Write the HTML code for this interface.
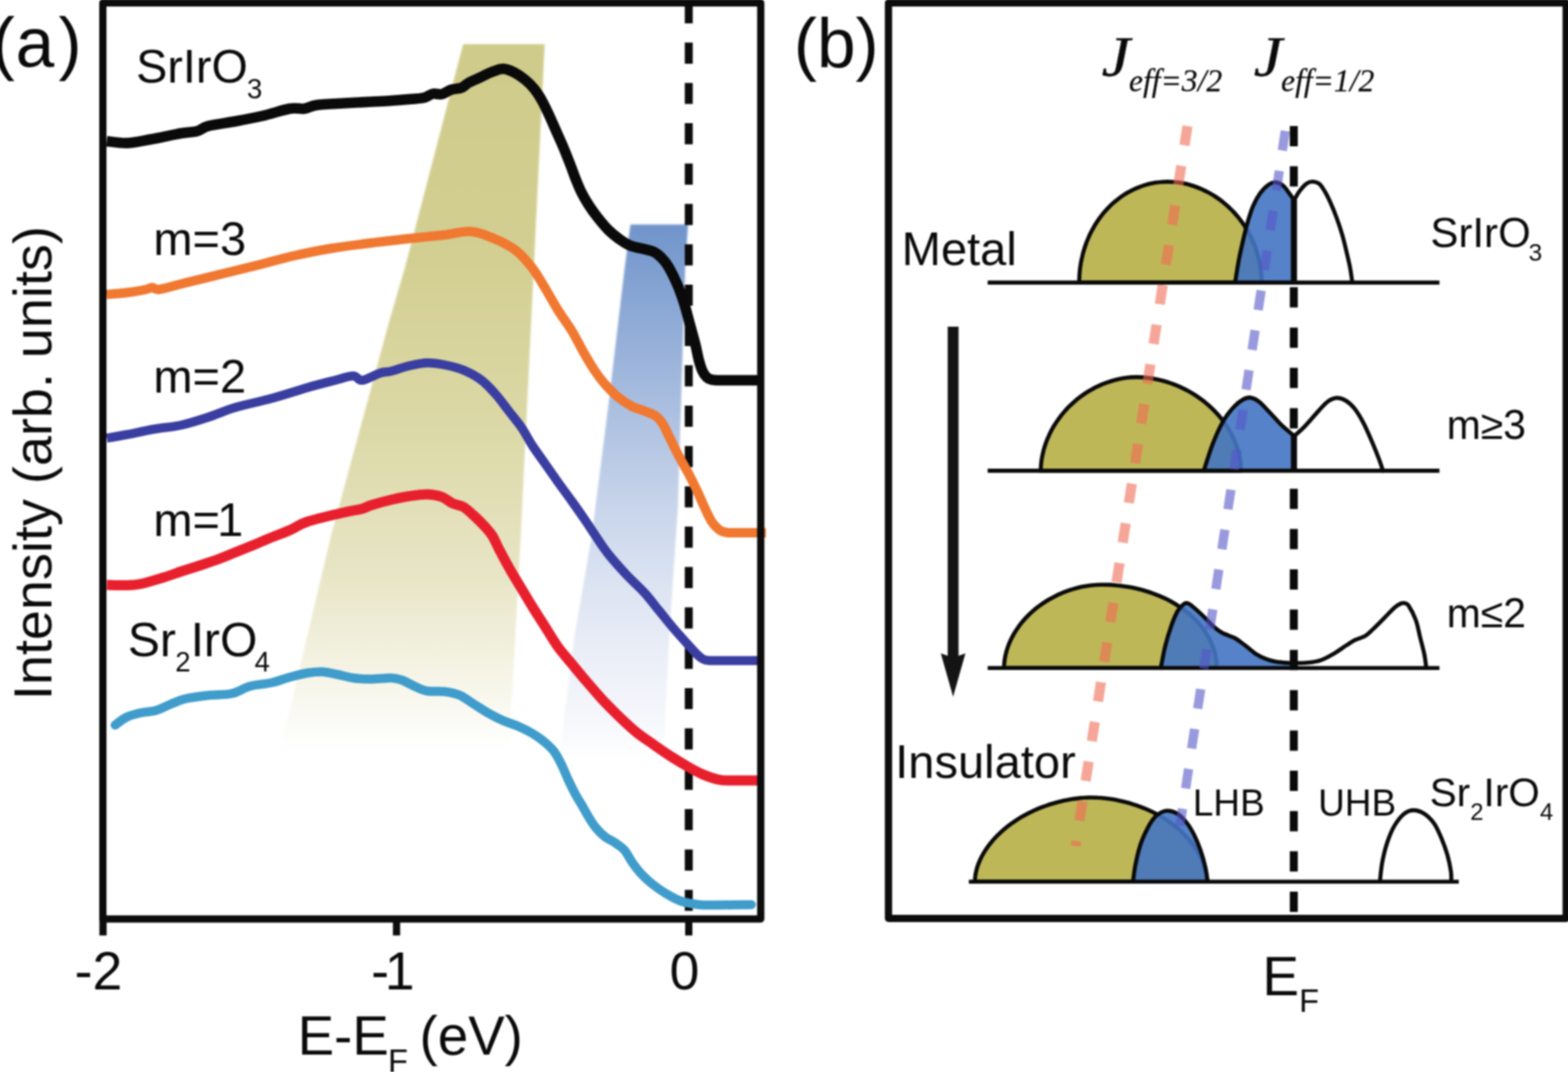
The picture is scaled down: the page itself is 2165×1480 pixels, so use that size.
<!DOCTYPE html>
<html lang="en">
<head>
<meta charset="utf-8">
<title>Figure: photoemission spectra and schematic band diagram</title>
<style>
html,body{margin:0;padding:0;background:#fff;}
body{width:2165px;height:1480px;overflow:hidden;}
svg{display:block;}
text{font-family:"Liberation Sans",Arial,Helvetica,sans-serif;fill:#0a0a0a;}
.ser{font-family:"Liberation Serif","Times New Roman",serif;font-style:italic;}
</style>
</head>
<body>
<svg width="2165" height="1480" viewBox="0 0 2165 1480">
<defs>
<linearGradient id="gy" gradientUnits="userSpaceOnUse" x1="0" y1="61" x2="0" y2="1035">
<stop offset="0" stop-color="#cfcb8a" stop-opacity="1"/><stop offset="0.3" stop-color="#d3cf92" stop-opacity="1"/><stop offset="0.55" stop-color="#dcd9a8" stop-opacity="1"/><stop offset="0.75" stop-color="#e8e5c6" stop-opacity="1"/><stop offset="0.9" stop-color="#f6f5e8" stop-opacity="1"/><stop offset="1" stop-color="#ffffff" stop-opacity="1"/>
</linearGradient>
<linearGradient id="gb" gradientUnits="userSpaceOnUse" x1="0" y1="310" x2="0" y2="1045">
<stop offset="0.0" stop-color="#7094cb" stop-opacity="1"/><stop offset="0.1224" stop-color="#85a4d3" stop-opacity="1"/><stop offset="0.2585" stop-color="#9cb4db" stop-opacity="1"/><stop offset="0.3946" stop-color="#b3c5e3" stop-opacity="1"/><stop offset="0.5306" stop-color="#c8d5eb" stop-opacity="1"/><stop offset="0.6667" stop-color="#dbe3f2" stop-opacity="1"/><stop offset="0.8027" stop-color="#eaeef7" stop-opacity="1"/><stop offset="0.9388" stop-color="#f7f8fc" stop-opacity="1"/><stop offset="1.0" stop-color="#ffffff" stop-opacity="1"/>
</linearGradient>
<filter id="soft" filterUnits="userSpaceOnUse" x="-20" y="-20" width="2205" height="1520" color-interpolation-filters="sRGB"><feGaussianBlur stdDeviation="1.2"/></filter>
<filter id="softb" filterUnits="userSpaceOnUse" x="300" y="0" width="800" height="1200" color-interpolation-filters="sRGB"><feGaussianBlur stdDeviation="1.2"/></filter>
</defs>
<rect x="0" y="0" width="2165" height="1480" fill="#ffffff"/>
<g filter="url(#soft)">

<g id="panel-a">
<path d="M639.5,61 L752,61 L737,370 L719,740 L703,1035 L387,1035 L457,740 L537,445 L559,370 Z" fill="url(#gy)" filter="url(#softb)"/>
<path d="M870.5,310 L950,310 L946,370 L936,700 L924,880 L916,1045 L772,1045 L793,880 L817,740 L840,560 L862.5,370 Z" fill="url(#gb)" filter="url(#softb)"/>
<line x1="951.0" y1="3.0" x2="951.0" y2="1264" stroke="#0c0c0c" stroke-width="11" stroke-dasharray="29.2 26.5"/>
<path d="M159.0,1001.0 C161.7,999.2 169.0,992.8 175.0,990.0 C181.0,987.2 188.3,985.5 195.0,984.0 C201.7,982.5 208.3,982.9 215.0,981.0 C221.7,979.1 228.3,975.2 235.0,972.5 C241.7,969.8 246.2,967.1 255.0,965.0 C263.8,962.9 276.7,961.2 287.5,960.0 C298.3,958.8 310.4,959.6 320.0,957.5 C329.6,955.4 335.8,950.0 345.0,947.5 C354.2,945.0 365.8,944.6 375.0,942.5 C384.2,940.4 391.7,937.2 400.0,935.0 C408.3,932.8 417.5,930.2 425.0,929.0 C432.5,927.8 438.3,927.2 445.0,927.5 C451.7,927.8 457.9,929.6 465.0,931.0 C472.1,932.4 479.6,934.9 487.5,936.0 C495.4,937.1 503.8,937.5 512.5,937.5 C521.2,937.5 532.9,935.8 540.0,936.0 C547.1,936.2 549.6,937.1 555.0,939.0 C560.4,940.9 566.7,945.0 572.5,947.5 C578.3,950.0 582.9,952.8 590.0,954.0 C597.1,955.2 607.5,954.0 615.0,955.0 C622.5,956.0 628.3,957.1 635.0,960.0 C641.7,962.9 648.3,968.3 655.0,972.5 C661.7,976.7 668.3,981.2 675.0,985.0 C681.7,988.8 688.3,992.1 695.0,995.0 C701.7,997.9 708.3,999.6 715.0,1002.5 C721.7,1005.4 728.8,1008.8 735.0,1012.5 C741.2,1016.2 747.5,1020.8 752.5,1025.0 C757.5,1029.2 761.2,1032.5 765.0,1037.5 C768.8,1042.5 771.7,1048.3 775.0,1055.0 C778.3,1061.7 781.7,1070.4 785.0,1077.5 C788.3,1084.6 792.1,1092.1 795.0,1097.5 C797.9,1102.9 799.6,1105.0 802.5,1110.0 C805.4,1115.0 809.2,1122.1 812.5,1127.5 C815.8,1132.9 818.8,1137.9 822.5,1142.5 C826.2,1147.1 830.4,1151.4 835.0,1155.0 C839.6,1158.6 845.4,1160.8 850.0,1164.0 C854.6,1167.2 858.8,1169.7 862.5,1174.0 C866.2,1178.3 868.8,1184.7 872.5,1190.0 C876.2,1195.3 880.4,1201.0 885.0,1206.0 C889.6,1211.0 894.2,1215.3 900.0,1220.0 C905.8,1224.7 913.3,1230.0 920.0,1234.0 C926.7,1238.0 932.5,1241.5 940.0,1244.0 C947.5,1246.5 956.7,1248.1 965.0,1249.0 C973.3,1249.9 977.9,1249.5 990.0,1249.5 C1002.1,1249.5 1029.6,1249.1 1037.5,1249.0" fill="none" stroke="#3f9ccb" stroke-width="12.5" stroke-linejoin="round" stroke-linecap="round"/>
<path d="M147.5,807.5 C152.1,807.6 167.1,808.2 175.0,808.0 C182.9,807.8 186.7,807.8 195.0,806.0 C203.3,804.2 215.8,800.3 225.0,797.5 C234.2,794.7 241.7,791.8 250.0,789.0 C258.3,786.2 266.7,783.8 275.0,781.0 C283.3,778.2 291.7,775.6 300.0,772.5 C308.3,769.4 316.7,765.8 325.0,762.5 C333.3,759.2 342.5,755.6 350.0,752.5 C357.5,749.4 361.7,747.4 370.0,744.0 C378.3,740.6 390.8,736.0 400.0,732.0 C409.2,728.0 412.5,724.1 425.0,720.0 C437.5,715.9 462.5,710.4 475.0,707.5 C487.5,704.6 493.8,704.2 500.0,702.5 C506.2,700.8 505.8,699.6 512.5,697.5 C519.2,695.4 531.2,692.1 540.0,690.0 C548.8,687.9 556.7,686.2 565.0,685.0 C573.3,683.8 582.5,682.3 590.0,682.5 C597.5,682.7 604.2,683.9 610.0,686.0 C615.8,688.1 620.0,692.7 625.0,695.0 C630.0,697.3 635.0,697.1 640.0,700.0 C645.0,702.9 650.0,707.9 655.0,712.5 C660.0,717.1 665.8,722.9 670.0,727.5 C674.2,732.1 676.7,734.6 680.0,740.0 C683.3,745.4 685.8,752.1 690.0,760.0 C694.2,767.9 700.0,778.8 705.0,787.5 C710.0,796.2 715.0,804.2 720.0,812.5 C725.0,820.8 729.6,828.8 735.0,837.5 C740.4,846.2 746.7,855.8 752.5,865.0 C758.3,874.2 763.8,883.8 770.0,892.5 C776.2,901.2 783.3,908.9 790.0,917.0 C796.7,925.1 803.3,933.2 810.0,941.0 C816.7,948.8 822.9,956.3 830.0,964.0 C837.1,971.7 844.6,979.3 852.5,987.0 C860.4,994.7 869.2,1003.2 877.5,1010.0 C885.8,1016.8 894.2,1022.2 902.5,1028.0 C910.8,1033.8 919.2,1039.7 927.5,1045.0 C935.8,1050.3 945.4,1056.0 952.5,1060.0 C959.6,1064.0 964.6,1066.6 970.0,1069.0 C975.4,1071.4 980.8,1073.2 985.0,1074.5 C989.2,1075.8 991.7,1076.3 995.0,1076.8 C998.3,1077.3 1000.0,1077.4 1005.0,1077.5 C1010.0,1077.6 1017.5,1077.5 1025.0,1077.5 C1032.5,1077.5 1045.8,1077.5 1050.0,1077.5" fill="none" stroke="#e8202e" stroke-width="14" stroke-linejoin="round" stroke-linecap="butt"/>
<path d="M147.5,605.0 C152.1,604.2 164.2,602.1 175.0,600.0 C185.8,597.9 200.0,594.7 212.5,592.5 C225.0,590.3 237.5,589.8 250.0,587.0 C262.5,584.2 275.0,580.1 287.5,576.0 C300.0,571.9 310.4,566.8 325.0,562.5 C339.6,558.2 358.3,554.6 375.0,550.0 C391.7,545.4 410.4,539.2 425.0,535.0 C439.6,530.8 452.1,527.7 462.5,525.0 C472.9,522.3 481.2,519.0 487.5,519.0 C493.8,519.0 493.8,525.7 500.0,525.0 C506.2,524.3 518.3,517.1 525.0,515.0 C531.7,512.9 533.3,514.2 540.0,512.5 C546.7,510.8 556.7,506.9 565.0,505.0 C573.3,503.1 581.7,501.2 590.0,501.0 C598.3,500.8 606.7,502.3 615.0,504.0 C623.3,505.7 631.7,507.5 640.0,511.0 C648.3,514.5 657.5,519.3 665.0,525.0 C672.5,530.7 678.8,537.9 685.0,545.0 C691.2,552.1 696.7,560.0 702.5,567.5 C708.3,575.0 714.6,582.1 720.0,590.0 C725.4,597.9 729.6,606.7 735.0,615.0 C740.4,623.3 746.7,631.7 752.5,640.0 C758.3,648.3 763.8,656.2 770.0,665.0 C776.2,673.8 783.8,683.8 790.0,692.5 C796.2,701.2 802.1,709.6 807.5,717.5 C812.9,725.4 817.1,732.1 822.5,740.0 C827.9,747.9 832.9,756.1 840.0,765.0 C847.1,773.9 856.7,784.6 865.0,793.5 C873.3,802.4 882.5,810.2 890.0,818.5 C897.5,826.8 903.3,834.8 910.0,843.0 C916.7,851.2 923.3,859.7 930.0,867.5 C936.7,875.3 944.7,884.1 950.0,890.0 C955.3,895.9 958.8,899.8 962.0,903.0 C965.2,906.2 967.0,907.6 969.0,909.0 C971.0,910.4 972.2,910.8 974.0,911.3 C975.8,911.8 977.3,911.9 980.0,912.0 C982.7,912.1 983.3,912.0 990.0,912.0 C996.7,912.0 1010.0,912.0 1020.0,912.0 C1030.0,912.0 1045.0,912.0 1050.0,912.0" fill="none" stroke="#3a3ea0" stroke-width="12.5" stroke-linejoin="round" stroke-linecap="butt"/>
<path d="M147.0,406.5 C151.7,406.1 166.2,405.1 175.0,404.0 C183.8,402.9 194.2,401.2 200.0,400.0 C205.8,398.8 206.7,397.1 210.0,397.0 C213.3,396.9 212.7,400.5 220.0,399.5 C227.3,398.5 239.8,394.5 254.0,391.0 C268.2,387.5 288.0,382.7 305.0,378.5 C322.0,374.3 339.1,370.2 356.0,366.0 C372.9,361.8 389.7,356.8 406.5,353.0 C423.3,349.2 440.1,345.8 457.0,343.0 C473.9,340.2 491.0,338.2 508.0,336.0 C525.0,333.8 541.7,331.9 559.0,330.0 C576.3,328.1 597.0,326.2 612.0,324.5 C627.0,322.8 637.8,318.9 649.0,319.5 C660.2,320.1 668.5,323.7 679.0,328.0 C689.5,332.3 702.7,338.5 712.0,345.5 C721.3,352.5 728.2,361.3 735.0,370.0 C741.8,378.7 746.7,387.9 752.5,397.5 C758.3,407.1 763.8,417.5 770.0,427.5 C776.2,437.5 784.2,447.9 790.0,457.5 C795.8,467.1 800.0,476.2 805.0,485.0 C810.0,493.8 815.0,502.5 820.0,510.0 C825.0,517.5 829.6,523.8 835.0,530.0 C840.4,536.2 846.2,542.3 852.5,547.5 C858.8,552.7 866.2,557.7 872.5,561.0 C878.8,564.3 884.6,565.3 890.0,567.5 C895.4,569.7 900.8,571.1 905.0,574.0 C909.2,576.9 911.7,579.8 915.0,585.0 C918.3,590.2 921.2,597.5 925.0,605.0 C928.8,612.5 933.3,622.1 937.5,630.0 C941.7,637.9 945.8,644.6 950.0,652.5 C954.2,660.4 958.8,669.6 962.5,677.5 C966.2,685.4 969.2,692.9 972.5,700.0 C975.8,707.1 979.2,714.8 982.5,720.0 C985.8,725.2 989.6,728.6 992.5,731.0 C995.4,733.4 997.4,733.8 1000.0,734.5 C1002.6,735.2 1003.8,735.3 1008.0,735.5 C1012.2,735.7 1016.8,735.5 1025.0,735.5 C1033.2,735.5 1052.1,735.5 1057.5,735.5" fill="none" stroke="#f07830" stroke-width="13" stroke-linejoin="round" stroke-linecap="butt"/>
<path d="M147.5,195.0 C152.1,195.4 165.0,197.9 175.0,197.5 C185.0,197.1 195.0,194.8 207.5,192.5 C220.0,190.2 239.2,185.9 250.0,184.0 C260.8,182.1 266.2,182.7 272.5,181.0 C278.8,179.3 278.8,176.2 287.5,174.0 C296.2,171.8 312.5,169.8 325.0,167.5 C337.5,165.2 350.0,162.9 362.5,160.0 C375.0,157.1 390.4,151.7 400.0,150.0 C409.6,148.3 413.8,150.8 420.0,150.0 C426.2,149.2 428.3,146.2 437.5,145.0 C446.7,143.8 462.5,143.2 475.0,142.5 C487.5,141.8 501.7,141.1 512.5,140.5 C523.3,139.9 531.2,139.6 540.0,139.0 C548.8,138.4 557.5,137.7 565.0,137.0 C572.5,136.3 579.6,136.2 585.0,135.0 C590.4,133.8 593.3,130.3 597.5,129.5 C601.7,128.7 605.8,130.9 610.0,130.0 C614.2,129.1 617.9,125.5 622.5,124.0 C627.1,122.5 633.3,122.7 637.5,121.0 C641.7,119.3 642.9,116.5 647.5,114.0 C652.1,111.5 659.6,108.5 665.0,106.0 C670.4,103.5 675.0,100.8 680.0,99.0 C685.0,97.2 690.0,94.8 695.0,95.0 C700.0,95.2 705.0,97.5 710.0,100.0 C715.0,102.5 720.4,106.2 725.0,110.0 C729.6,113.8 733.8,117.9 737.5,122.5 C741.2,127.1 744.2,131.7 747.5,137.5 C750.8,143.3 754.2,150.4 757.5,157.5 C760.8,164.6 764.2,172.5 767.5,180.0 C770.8,187.5 774.2,194.6 777.5,202.5 C780.8,210.4 784.6,220.0 787.5,227.5 C790.4,235.0 792.5,241.2 795.0,247.5 C797.5,253.8 799.6,259.2 802.5,265.0 C805.4,270.8 808.8,276.7 812.5,282.5 C816.2,288.3 820.4,294.2 825.0,300.0 C829.6,305.8 835.0,312.5 840.0,317.5 C845.0,322.5 850.0,326.4 855.0,330.0 C860.0,333.6 864.2,336.7 870.0,339.0 C875.8,341.3 884.6,342.6 890.0,344.0 C895.4,345.4 898.8,345.7 902.5,347.5 C906.2,349.3 909.2,351.7 912.5,355.0 C915.8,358.3 918.8,361.2 922.5,367.5 C926.2,373.8 931.2,383.8 935.0,392.5 C938.8,401.2 942.1,410.8 945.0,420.0 C947.9,429.2 950.0,438.3 952.5,447.5 C955.0,456.7 957.9,466.7 960.0,475.0 C962.1,483.3 963.3,491.2 965.0,497.5 C966.7,503.8 968.2,508.6 970.0,512.5 C971.8,516.4 974.0,519.1 976.0,521.0 C978.0,522.9 979.7,523.3 982.0,524.0 C984.3,524.7 985.3,524.8 990.0,525.0 C994.7,525.2 1000.4,525.0 1010.0,525.0 C1019.6,525.0 1041.2,525.0 1047.5,525.0" fill="none" stroke="#0a0a0a" stroke-width="14.5" stroke-linejoin="round" stroke-linecap="butt"/>
<rect x="142.0" y="4.0" width="908.4000000000001" height="1264.75" fill="none" stroke="#0c0c0c" stroke-width="10" stroke-linejoin="round"/>
<line x1="142.25" y1="1268.75" x2="142.25" y2="1291.5" stroke="#0c0c0c" stroke-width="10"/>
<line x1="547.5" y1="1268.75" x2="547.5" y2="1291.5" stroke="#0c0c0c" stroke-width="10"/>
<line x1="951.0" y1="1268.75" x2="951.0" y2="1291.5" stroke="#0c0c0c" stroke-width="10"/>
</g>
<g id="panel-b">
<path d="M1490.1,390.1 C1490.1,388.6 1490.2,384.0 1490.4,381.0 C1490.5,378.0 1490.8,374.9 1491.1,371.9 C1491.5,368.9 1491.9,365.9 1492.4,362.9 C1493.0,360.0 1493.6,357.0 1494.3,354.1 C1494.9,351.1 1495.7,348.2 1496.6,345.4 C1497.4,342.5 1498.4,339.6 1499.4,336.8 C1500.4,334.0 1501.5,331.3 1502.7,328.5 C1503.8,325.8 1505.1,323.1 1506.4,320.5 C1507.8,317.9 1509.2,315.3 1510.6,312.8 C1512.1,310.2 1513.7,307.8 1515.3,305.4 C1516.9,303.0 1518.6,300.6 1520.4,298.3 C1522.1,296.0 1523.9,293.8 1525.8,291.7 C1527.7,289.5 1529.6,287.4 1531.6,285.4 C1533.6,283.4 1535.7,281.5 1537.8,279.7 C1539.9,277.8 1542.1,276.0 1544.3,274.4 C1546.5,272.7 1548.7,271.1 1551.0,269.5 C1553.4,268.0 1555.7,266.6 1558.1,265.3 C1560.5,263.9 1562.9,262.7 1565.4,261.5 C1567.8,260.3 1570.3,259.3 1572.8,258.3 C1575.3,257.3 1577.9,256.4 1580.4,255.6 C1583.0,254.9 1585.6,254.2 1588.2,253.6 C1590.8,253.0 1593.5,252.5 1596.1,252.1 C1598.7,251.7 1601.4,251.4 1604.0,251.2 C1606.7,251.0 1609.3,250.9 1612.0,250.9 C1614.7,250.9 1617.2,251.0 1619.9,251.2 C1622.6,251.4 1625.4,251.7 1628.1,252.1 C1630.9,252.5 1633.6,253.0 1636.3,253.6 C1639.1,254.2 1641.8,255.0 1644.5,255.8 C1647.2,256.6 1649.9,257.5 1652.6,258.5 C1655.3,259.5 1658.0,260.6 1660.6,261.8 C1663.2,262.9 1665.8,264.2 1668.4,265.6 C1670.9,267.0 1673.4,268.4 1675.9,270.0 C1678.4,271.5 1680.8,273.2 1683.2,274.9 C1685.6,276.6 1687.9,278.4 1690.2,280.3 C1692.5,282.2 1694.7,284.2 1696.9,286.2 C1699.0,288.2 1701.1,290.4 1703.2,292.5 C1705.2,294.7 1707.2,297.0 1709.1,299.3 C1711.0,301.6 1712.8,304.0 1714.6,306.4 C1716.4,308.9 1718.1,311.4 1719.7,313.9 C1721.3,316.5 1722.8,319.1 1724.3,321.7 C1725.7,324.4 1727.1,327.1 1728.4,329.8 C1729.6,332.5 1730.8,335.3 1732.0,338.1 C1733.1,340.9 1734.1,343.8 1735.0,346.6 C1736.0,349.5 1736.8,352.4 1737.6,355.3 C1738.3,358.2 1739.0,361.1 1739.5,364.1 C1740.1,367.0 1740.6,369.9 1741.0,372.9 C1741.3,375.8 1741.6,378.7 1741.8,381.6 C1742.0,384.5 1742.1,388.7 1742.1,390.1 Z" fill="#beb758" stroke="#0a0a0a" stroke-width="5.6" stroke-linejoin="round" stroke-linecap="round"/>
<path d="M1437.0,649.9 C1437.0,648.7 1437.1,645.1 1437.3,642.6 C1437.5,640.0 1437.8,637.4 1438.2,634.7 C1438.6,632.1 1439.1,629.4 1439.7,626.8 C1440.3,624.1 1440.9,621.4 1441.7,618.7 C1442.5,616.1 1443.4,613.4 1444.4,610.7 C1445.3,608.1 1446.4,605.5 1447.6,602.9 C1448.7,600.3 1450.0,597.7 1451.3,595.1 C1452.6,592.6 1454.0,590.0 1455.5,587.6 C1457.0,585.1 1458.6,582.6 1460.3,580.3 C1462.0,577.9 1463.7,575.5 1465.5,573.2 C1467.4,570.9 1469.3,568.7 1471.2,566.5 C1473.2,564.3 1475.2,562.2 1477.3,560.1 C1479.5,558.1 1481.6,556.1 1483.9,554.1 C1486.1,552.2 1488.4,550.3 1490.7,548.6 C1493.1,546.8 1495.5,545.1 1497.9,543.4 C1500.3,541.8 1502.8,540.2 1505.4,538.8 C1507.9,537.3 1510.5,535.9 1513.1,534.6 C1515.7,533.3 1518.3,532.1 1521.0,530.9 C1523.6,529.8 1526.3,528.8 1529.0,527.8 C1531.7,526.9 1534.5,526.0 1537.2,525.2 C1539.9,524.5 1542.6,523.8 1545.4,523.2 C1548.1,522.6 1550.8,522.2 1553.5,521.8 C1556.2,521.4 1558.9,521.1 1561.5,520.9 C1564.1,520.7 1566.4,520.6 1569.0,520.6 C1571.6,520.6 1574.4,520.7 1577.2,520.9 C1580.0,521.1 1583.0,521.4 1586.0,521.8 C1588.9,522.2 1591.9,522.6 1594.9,523.2 C1597.9,523.8 1600.9,524.5 1603.9,525.2 C1606.8,526.0 1609.8,526.9 1612.8,527.8 C1615.7,528.8 1618.7,529.8 1621.6,530.9 C1624.5,532.1 1627.4,533.3 1630.3,534.6 C1633.1,535.9 1635.9,537.3 1638.7,538.8 C1641.5,540.2 1644.2,541.8 1646.9,543.4 C1649.6,545.1 1652.2,546.8 1654.8,548.6 C1657.3,550.3 1659.8,552.2 1662.3,554.1 C1664.7,556.1 1667.1,558.1 1669.4,560.1 C1671.7,562.2 1673.9,564.3 1676.1,566.5 C1678.3,568.7 1680.3,570.9 1682.3,573.2 C1684.3,575.5 1686.2,577.9 1688.1,580.3 C1689.9,582.6 1691.6,585.1 1693.3,587.6 C1694.9,590.0 1696.5,592.6 1697.9,595.1 C1699.4,597.7 1700.8,600.3 1702.0,602.9 C1703.3,605.5 1704.5,608.1 1705.5,610.7 C1706.6,613.4 1707.6,616.1 1708.4,618.7 C1709.3,621.4 1710.0,624.1 1710.7,626.8 C1711.3,629.4 1711.9,632.1 1712.3,634.7 C1712.7,637.4 1713.1,640.0 1713.3,642.6 C1713.5,645.1 1713.5,648.7 1713.6,649.9 Z" fill="#beb758" stroke="#0a0a0a" stroke-width="5.6" stroke-linejoin="round" stroke-linecap="round"/>
<path d="M1386.3,922.3 C1386.4,921.2 1386.4,918.0 1386.6,915.8 C1386.8,913.5 1387.1,911.2 1387.5,908.8 C1387.9,906.5 1388.4,904.1 1389.0,901.7 C1389.6,899.3 1390.3,896.9 1391.1,894.6 C1391.9,892.2 1392.8,889.8 1393.8,887.4 C1394.8,885.1 1395.9,882.7 1397.1,880.4 C1398.3,878.1 1399.6,875.8 1400.9,873.5 C1402.3,871.3 1403.7,869.0 1405.3,866.8 C1406.8,864.6 1408.4,862.4 1410.1,860.3 C1411.8,858.2 1413.6,856.1 1415.5,854.0 C1417.4,852.0 1419.3,850.0 1421.3,848.1 C1423.3,846.1 1425.4,844.2 1427.6,842.4 C1429.7,840.5 1431.9,838.8 1434.2,837.1 C1436.5,835.3 1438.8,833.7 1441.2,832.1 C1443.6,830.5 1446.1,829.0 1448.6,827.5 C1451.1,826.1 1453.6,824.7 1456.2,823.4 C1458.8,822.1 1461.4,820.8 1464.1,819.7 C1466.8,818.5 1469.5,817.4 1472.2,816.4 C1474.9,815.4 1477.7,814.5 1480.4,813.6 C1483.2,812.8 1486.0,812.0 1488.8,811.3 C1491.5,810.6 1494.3,810.0 1497.1,809.5 C1499.9,809.0 1502.7,808.6 1505.5,808.2 C1508.2,807.9 1511.0,807.6 1513.7,807.5 C1516.3,807.3 1518.3,807.2 1521.3,807.2 C1524.3,807.2 1528.2,807.3 1531.7,807.4 C1535.1,807.6 1538.6,807.9 1542.0,808.2 C1545.4,808.5 1548.9,808.9 1552.3,809.4 C1555.7,809.9 1559.0,810.5 1562.4,811.1 C1565.7,811.8 1569.0,812.5 1572.3,813.3 C1575.6,814.1 1578.8,815.0 1582.0,816.0 C1585.2,816.9 1588.4,818.0 1591.5,819.1 C1594.6,820.2 1597.7,821.4 1600.6,822.6 C1603.6,823.9 1606.6,825.2 1609.5,826.6 C1612.3,828.0 1615.2,829.5 1617.9,831.0 C1620.7,832.5 1623.3,834.1 1625.9,835.8 C1628.5,837.4 1631.1,839.1 1633.5,840.9 C1636.0,842.7 1638.3,844.5 1640.6,846.4 C1642.9,848.3 1645.1,850.2 1647.2,852.2 C1649.3,854.2 1651.3,856.3 1653.3,858.4 C1655.2,860.4 1657.0,862.6 1658.7,864.8 C1660.5,866.9 1662.1,869.1 1663.6,871.4 C1665.2,873.6 1666.6,875.9 1667.9,878.3 C1669.2,880.6 1670.5,882.9 1671.6,885.3 C1672.7,887.7 1673.7,890.1 1674.6,892.5 C1675.5,894.9 1676.3,897.4 1677.0,899.8 C1677.6,902.3 1678.2,904.8 1678.6,907.3 C1679.1,909.8 1679.4,912.3 1679.7,914.8 C1679.9,917.3 1679.9,921.0 1680.0,922.3 Z" fill="#beb758" stroke="#0a0a0a" stroke-width="5.6" stroke-linejoin="round" stroke-linecap="round"/>
<path d="M1346.0,1217.2 C1346.1,1216.2 1346.1,1213.3 1346.4,1211.1 C1346.6,1209.0 1347.0,1206.6 1347.5,1204.3 C1348.0,1202.0 1348.6,1199.7 1349.3,1197.3 C1350.1,1195.0 1350.9,1192.6 1351.9,1190.2 C1352.9,1187.9 1354.0,1185.5 1355.2,1183.1 C1356.4,1180.8 1357.7,1178.4 1359.1,1176.1 C1360.6,1173.7 1362.1,1171.4 1363.8,1169.1 C1365.4,1166.8 1367.2,1164.5 1369.1,1162.3 C1370.9,1160.0 1372.9,1157.8 1375.0,1155.6 C1377.0,1153.5 1379.2,1151.3 1381.5,1149.3 C1383.7,1147.2 1386.1,1145.1 1388.5,1143.1 C1390.9,1141.1 1393.5,1139.2 1396.1,1137.3 C1398.7,1135.4 1401.3,1133.6 1404.1,1131.8 C1406.8,1130.1 1409.6,1128.4 1412.5,1126.7 C1415.4,1125.1 1418.3,1123.5 1421.3,1122.0 C1424.3,1120.5 1427.4,1119.1 1430.5,1117.7 C1433.6,1116.4 1436.7,1115.1 1439.9,1113.9 C1443.0,1112.7 1446.3,1111.6 1449.5,1110.5 C1452.7,1109.5 1456.0,1108.5 1459.2,1107.7 C1462.5,1106.8 1465.8,1106.0 1469.0,1105.3 C1472.3,1104.6 1475.6,1103.9 1478.8,1103.4 C1482.1,1102.9 1485.3,1102.4 1488.5,1102.1 C1491.6,1101.7 1494.8,1101.4 1497.8,1101.3 C1500.8,1101.1 1503.3,1101.0 1506.2,1101.0 C1509.1,1101.0 1512.1,1101.1 1515.3,1101.3 C1518.4,1101.4 1521.7,1101.7 1524.9,1102.0 C1528.2,1102.4 1531.5,1102.8 1534.8,1103.3 C1538.1,1103.9 1541.4,1104.5 1544.7,1105.2 C1548.0,1105.9 1551.3,1106.6 1554.6,1107.5 C1557.9,1108.3 1561.1,1109.3 1564.3,1110.3 C1567.6,1111.3 1570.8,1112.4 1573.9,1113.6 C1577.1,1114.8 1580.2,1116.0 1583.2,1117.3 C1586.3,1118.6 1589.3,1120.1 1592.3,1121.5 C1595.2,1123.0 1598.1,1124.5 1601.0,1126.1 C1603.8,1127.7 1606.6,1129.4 1609.3,1131.1 C1612.0,1132.9 1614.6,1134.7 1617.2,1136.5 C1619.7,1138.4 1622.2,1140.3 1624.6,1142.2 C1626.9,1144.2 1629.2,1146.2 1631.4,1148.3 C1633.6,1150.3 1635.8,1152.5 1637.8,1154.6 C1639.8,1156.8 1641.7,1159.0 1643.5,1161.2 C1645.4,1163.4 1647.1,1165.7 1648.7,1168.0 C1650.3,1170.3 1651.8,1172.6 1653.2,1174.9 C1654.6,1177.3 1655.9,1179.6 1657.1,1182.0 C1658.3,1184.4 1659.3,1186.8 1660.3,1189.2 C1661.2,1191.6 1662.1,1194.0 1662.8,1196.4 C1663.5,1198.8 1664.1,1201.2 1664.6,1203.6 C1665.0,1205.9 1665.4,1208.3 1665.6,1210.6 C1665.9,1212.9 1665.9,1216.1 1666.0,1217.2 Z" fill="#beb758" stroke="#0a0a0a" stroke-width="5.6" stroke-linejoin="round" stroke-linecap="round"/>
<path d="M1705.4,390.1 C1706.2,385.1 1708.5,369.6 1710.3,360.0 C1712.1,350.4 1714.3,340.8 1716.3,332.2 C1718.3,323.6 1719.9,316.4 1722.2,308.4 C1724.5,300.4 1727.2,291.3 1730.2,284.4 C1733.2,277.4 1736.4,271.6 1740.0,266.7 C1743.6,261.8 1748.3,257.2 1752.0,254.7 C1755.7,252.2 1758.7,251.5 1762.0,251.8 C1765.3,252.1 1769.0,254.2 1772.0,256.7 C1775.0,259.2 1777.5,263.4 1780.0,266.7 C1782.5,270.0 1785.7,274.9 1786.8,276.6 L1786.8,390.1 Z" fill="#4274c2" fill-opacity="0.9" stroke="none"/>
<path d="M1662.1,649.9 C1664.1,643.8 1669.9,624.5 1674.4,613.0 C1678.9,601.5 1684.2,589.8 1689.1,581.2 C1694.0,572.6 1699.3,566.5 1703.8,561.6 C1708.3,556.7 1712.3,553.9 1716.0,551.8 C1719.7,549.7 1722.1,548.5 1725.8,548.9 C1729.5,549.3 1733.5,550.9 1738.0,554.2 C1742.5,557.5 1747.4,563.4 1752.7,568.9 C1758.0,574.4 1764.2,581.8 1769.9,587.3 C1775.6,592.8 1784.2,599.5 1787.0,602.0 L1787,649.9 Z" fill="#4274c2" fill-opacity="0.9" stroke="none"/>
<path d="M1602.8,922.3 C1603.8,917.4 1606.2,902.7 1608.6,893.0 C1611.0,883.3 1614.4,872.1 1617.3,863.9 C1620.2,855.6 1623.3,848.4 1626.1,843.5 C1628.9,838.6 1631.8,836.2 1634.0,834.4 C1636.2,832.6 1637.4,832.3 1639.5,832.8 C1641.6,833.2 1642.8,834.2 1646.4,837.1 C1650.0,840.0 1656.2,845.6 1661.0,850.2 C1665.8,854.8 1671.1,860.9 1675.5,864.8 C1679.9,868.7 1682.4,870.8 1687.2,873.5 C1692.0,876.2 1699.3,877.9 1704.6,880.8 C1709.9,883.7 1714.3,887.4 1719.2,891.0 C1724.1,894.6 1728.9,899.5 1733.7,902.6 C1738.5,905.8 1743.5,908.0 1748.3,909.9 C1753.1,911.8 1756.5,912.7 1762.8,913.7 C1769.1,914.7 1782.2,915.4 1786.1,915.7 L1786.1,922.3 Z" fill="#4274c2" fill-opacity="0.9" stroke="none"/>
<path d="M1564.4,1217.2 C1565.0,1213.2 1566.1,1201.9 1567.8,1193.5 C1569.5,1185.1 1571.9,1174.6 1574.4,1166.8 C1576.9,1159.0 1579.7,1153.0 1582.7,1146.9 C1585.8,1140.8 1589.4,1134.5 1592.7,1130.3 C1596.0,1126.1 1599.4,1123.7 1602.7,1121.9 C1606.0,1120.1 1608.7,1119.0 1612.6,1119.3 C1616.5,1119.6 1621.5,1120.7 1626.0,1123.6 C1630.5,1126.5 1635.4,1131.9 1639.3,1136.9 C1643.2,1141.9 1646.2,1147.4 1649.2,1153.5 C1652.2,1159.6 1655.0,1166.3 1657.5,1173.5 C1660.0,1180.7 1662.5,1189.5 1664.2,1196.8 C1665.9,1204.1 1667.0,1213.8 1667.5,1217.2 Z" fill="#4274c2" fill-opacity="0.9" stroke="none"/>
<path d="M1705.4,390.1 C1706.2,385.1 1708.5,369.6 1710.3,360.0 C1712.1,350.4 1714.3,340.8 1716.3,332.2 C1718.3,323.6 1719.9,316.4 1722.2,308.4 C1724.5,300.4 1727.2,291.3 1730.2,284.4 C1733.2,277.4 1736.4,271.6 1740.0,266.7 C1743.6,261.8 1748.3,257.2 1752.0,254.7 C1755.7,252.2 1758.7,251.5 1762.0,251.8 C1765.3,252.1 1769.0,254.2 1772.0,256.7 C1775.0,259.2 1777.5,263.4 1780.0,266.7 C1782.5,270.0 1785.7,274.9 1786.8,276.6" fill="none" stroke="#0a0a0a" stroke-width="5.6" stroke-linejoin="round" stroke-linecap="round"/>
<path d="M1662.1,649.9 C1664.1,643.8 1669.9,624.5 1674.4,613.0 C1678.9,601.5 1684.2,589.8 1689.1,581.2 C1694.0,572.6 1699.3,566.5 1703.8,561.6 C1708.3,556.7 1712.3,553.9 1716.0,551.8 C1719.7,549.7 1722.1,548.5 1725.8,548.9 C1729.5,549.3 1733.5,550.9 1738.0,554.2 C1742.5,557.5 1747.4,563.4 1752.7,568.9 C1758.0,574.4 1764.2,581.8 1769.9,587.3 C1775.6,592.8 1784.2,599.5 1787.0,602.0" fill="none" stroke="#0a0a0a" stroke-width="5.6" stroke-linejoin="round" stroke-linecap="round"/>
<path d="M1602.8,922.3 C1603.8,917.4 1606.2,902.7 1608.6,893.0 C1611.0,883.3 1614.4,872.1 1617.3,863.9 C1620.2,855.6 1623.3,848.4 1626.1,843.5 C1628.9,838.6 1631.8,836.2 1634.0,834.4 C1636.2,832.6 1637.4,832.3 1639.5,832.8 C1641.6,833.2 1642.8,834.2 1646.4,837.1 C1650.0,840.0 1656.2,845.6 1661.0,850.2 C1665.8,854.8 1671.1,860.9 1675.5,864.8 C1679.9,868.7 1682.4,870.8 1687.2,873.5 C1692.0,876.2 1699.3,877.9 1704.6,880.8 C1709.9,883.7 1714.3,887.4 1719.2,891.0 C1724.1,894.6 1728.9,899.5 1733.7,902.6 C1738.5,905.8 1743.5,908.0 1748.3,909.9 C1753.1,911.8 1756.5,912.7 1762.8,913.7 C1769.1,914.7 1782.2,915.4 1786.1,915.7" fill="none" stroke="#0a0a0a" stroke-width="5.6" stroke-linejoin="round" stroke-linecap="round"/>
<path d="M1564.4,1217.2 C1565.0,1213.2 1566.1,1201.9 1567.8,1193.5 C1569.5,1185.1 1571.9,1174.6 1574.4,1166.8 C1576.9,1159.0 1579.7,1153.0 1582.7,1146.9 C1585.8,1140.8 1589.4,1134.5 1592.7,1130.3 C1596.0,1126.1 1599.4,1123.7 1602.7,1121.9 C1606.0,1120.1 1608.7,1119.0 1612.6,1119.3 C1616.5,1119.6 1621.5,1120.7 1626.0,1123.6 C1630.5,1126.5 1635.4,1131.9 1639.3,1136.9 C1643.2,1141.9 1646.2,1147.4 1649.2,1153.5 C1652.2,1159.6 1655.0,1166.3 1657.5,1173.5 C1660.0,1180.7 1662.5,1189.5 1664.2,1196.8 C1665.9,1204.1 1667.0,1213.8 1667.5,1217.2" fill="none" stroke="#0a0a0a" stroke-width="5.6" stroke-linejoin="round" stroke-linecap="round"/>
<path d="M1786.8,276.6 C1788.0,274.6 1791.0,268.5 1793.8,264.7 C1796.6,260.9 1800.7,256.1 1803.7,253.8 C1806.7,251.5 1808.6,250.8 1811.6,250.8 C1814.6,250.8 1818.5,251.5 1821.5,253.8 C1824.5,256.1 1826.8,260.2 1829.5,264.7 C1832.2,269.2 1834.8,274.6 1837.4,280.6 C1840.1,286.5 1842.8,293.1 1845.4,300.4 C1848.1,307.7 1851.0,316.3 1853.3,324.3 C1855.6,332.2 1857.5,340.5 1859.3,348.1 C1861.1,355.7 1862.9,362.9 1864.2,369.9 C1865.5,376.9 1866.7,386.7 1867.2,390.1" fill="none" stroke="#0a0a0a" stroke-width="5.6" stroke-linejoin="round" stroke-linecap="round"/>
<path d="M1787.0,602.0 C1789.5,599.8 1796.0,594.4 1801.7,588.5 C1807.4,582.6 1816.0,572.2 1821.3,566.5 C1826.6,560.8 1829.4,557.1 1833.5,554.2 C1837.6,551.4 1841.6,549.6 1845.7,549.4 C1849.8,549.2 1853.9,550.6 1858.0,553.0 C1862.1,555.4 1866.1,558.9 1870.2,564.0 C1874.3,569.1 1878.3,575.8 1882.4,583.6 C1886.5,591.4 1891.0,602.0 1894.7,610.6 C1898.4,619.2 1902.0,628.5 1904.5,635.0 C1907.0,641.5 1908.6,647.4 1909.4,649.9" fill="none" stroke="#0a0a0a" stroke-width="5.6" stroke-linejoin="round" stroke-linecap="round"/>
<path d="M1786.1,915.7 C1789.5,915.5 1800.2,915.5 1806.5,914.8 C1812.8,914.1 1818.2,913.3 1824.0,911.3 C1829.8,909.3 1835.6,906.0 1841.4,902.6 C1847.2,899.2 1854.1,894.1 1858.9,891.0 C1863.8,887.9 1866.1,885.9 1870.5,883.7 C1874.9,881.5 1880.7,880.6 1885.1,877.9 C1889.5,875.2 1892.3,871.8 1896.7,867.7 C1901.1,863.6 1906.5,858.0 1911.3,853.2 C1916.1,848.3 1922.0,841.9 1925.8,838.6 C1929.6,835.3 1931.7,834.4 1934.0,833.4 C1936.3,832.4 1937.7,832.3 1939.5,832.8 C1941.3,833.3 1942.4,832.5 1945.0,836.4 C1947.6,840.3 1952.3,849.0 1954.9,856.1 C1957.5,863.2 1958.8,871.5 1960.7,879.3 C1962.6,887.0 1965.0,895.4 1966.5,902.6 C1968.0,909.8 1968.9,919.0 1969.4,922.3" fill="none" stroke="#0a0a0a" stroke-width="5.6" stroke-linejoin="round" stroke-linecap="round"/>
<path d="M1905.3,1217.2 C1905.8,1212.7 1906.9,1199.1 1908.6,1190.1 C1910.3,1181.2 1912.5,1171.8 1915.3,1163.5 C1918.1,1155.2 1921.4,1146.8 1925.3,1140.2 C1929.2,1133.6 1934.2,1127.2 1938.6,1123.6 C1943.0,1120.0 1947.2,1118.6 1951.9,1118.6 C1956.6,1118.6 1962.1,1120.6 1966.8,1123.6 C1971.5,1126.7 1976.2,1131.4 1980.1,1136.9 C1984.0,1142.5 1987.0,1149.7 1990.1,1156.9 C1993.1,1164.1 1996.2,1172.4 1998.4,1180.1 C2000.6,1187.9 2002.5,1197.2 2003.4,1203.4 C2004.3,1209.6 2003.7,1214.9 2003.8,1217.2" fill="none" stroke="#0a0a0a" stroke-width="5.6" stroke-linejoin="round" stroke-linecap="round"/>
<line x1="1363.7" y1="390.1" x2="1987.5" y2="390.1" stroke="#0a0a0a" stroke-width="5.6"/>
<line x1="1363.7" y1="649.9" x2="1987.5" y2="649.9" stroke="#0a0a0a" stroke-width="5.6"/>
<line x1="1363.7" y1="922.3" x2="1987.5" y2="922.3" stroke="#0a0a0a" stroke-width="5.6"/>
<line x1="1337.7" y1="1217.2" x2="2014.2" y2="1217.2" stroke="#0a0a0a" stroke-width="5.6"/>
<line x1="1639.6" y1="174" x2="1485" y2="1168" stroke="#f06b53" stroke-opacity="0.6" stroke-width="14" stroke-dasharray="27 28.5"/>
<line x1="1774.7" y1="180.8" x2="1629.2" y2="1140" stroke="#5555c8" stroke-opacity="0.6" stroke-width="12.8" stroke-dasharray="27.3 28.37"/>
<path d="M1786.4,174.0 V202.0 M1786.4,229.6 V257.6 M1786.4,396.5 V424.5 M1786.4,452.2 V480.2 M1786.4,507.8 V535.8 M1786.4,563.4 V591.4 M1786.4,674.7 V702.7 M1786.4,730.3 V758.3 M1786.4,785.9 V813.9 M1786.4,841.6 V869.6 M1786.4,897.2 V925.2 M1786.4,952.8 V980.8 M1786.4,1008.5 V1036.5 M1786.4,1064.1 V1092.1 M1786.4,1119.7 V1147.7 M1786.4,1175.3 V1203.3 M1786.4,1231.0 V1259.0" fill="none" stroke="#0a0a0a" stroke-width="11"/>
<line x1="1786.6" y1="276" x2="1786.6" y2="390.1" stroke="#0a0a0a" stroke-width="8.5"/>
<line x1="1786.6" y1="600" x2="1786.6" y2="649.9" stroke="#0a0a0a" stroke-width="8.5"/>
<line x1="1316" y1="451" x2="1316" y2="910" stroke="#141414" stroke-width="15"/>
<path d="M1299,902 L1316,908 L1333,902 L1316,962 Z" fill="#141414"/>
<rect x="1226.75" y="4.0" width="935.75" height="1264.0" fill="none" stroke="#0c0c0c" stroke-width="10" stroke-linejoin="round"/>
</g>
<g id="labels">
<text x="-11.5" y="92" font-size="96" >(<tspan dx="1">a</tspan><tspan dx="6">)</tspan></text>
<text x="1096" y="93" font-size="96" >(b)</text>
<text x="188" y="113.7" font-size="64.5" >SrIrO<tspan font-size="38" dy="22" dx="-1">3</tspan></text>
<text x="211.7" y="352" font-size="65" >m=3</text>
<text x="211.7" y="542" font-size="65" >m=2</text>
<text x="211.7" y="740" font-size="65" >m=<tspan dx="-4">1</tspan></text>
<text x="176.5" y="906" font-size="66.5" >Sr<tspan font-size="38" dy="21" dx="-1">2</tspan><tspan dy="-21" dx="0">IrO</tspan><tspan font-size="38" dy="21" dx="-4">4</tspan></text>
<text x="0" y="0" font-size="74.5" transform="translate(71,966.5) rotate(-90)">Intensity (arb. units)</text>
<text x="103" y="1366" font-size="74" >-2</text>
<text x="512.5" y="1366" font-size="74" >-<tspan dx="-6">1</tspan></text>
<text x="924.5" y="1366" font-size="74" >0</text>
<text x="411" y="1456" font-size="75.5" >E-E<tspan font-size="45" dy="24" dx="-1">F</tspan><tspan dy="-24" dx="-5"> (eV)</tspan></text>
<text x="1245" y="366.3" font-size="65" >Metal</text>
<text x="1236" y="1074" font-size="65" >Insulator</text>
<text x="1975" y="341" font-size="58" >SrIrO<tspan font-size="34" dy="19" dx="-3">3</tspan></text>
<text x="1997.5" y="606" font-size="56.5" >m≥3</text>
<text x="1997.5" y="866.3" font-size="56.5" >m≤2</text>
<text x="1647" y="1126" font-size="51" >LHB</text>
<text x="1820" y="1126" font-size="51" >UHB</text>
<text x="1974" y="1112.5" font-size="56" >Sr<tspan font-size="33" dy="19" dx="0">2</tspan><tspan dy="-19" dx="0">IrO</tspan><tspan font-size="33" dy="19" dx="0">4</tspan></text>
<text x="1743" y="1374" font-size="76" >E<tspan font-size="45" dy="23" dx="0">F</tspan></text>
<text class="ser" transform="translate(1521,103.5) scale(1.14,1)" font-size="78" stroke="#0a0a0a" stroke-width="0.45">J<tspan font-size="43.7" dy="22.5" dx="-1.5" stroke-width="0.3" textLength="113" lengthAdjust="spacingAndGlyphs">eff=3/2</tspan></text>
<text class="ser" transform="translate(1731,103.5) scale(1.14,1)" font-size="78" stroke="#0a0a0a" stroke-width="0.45">J<tspan font-size="43.7" dy="22.5" dx="-1.5" stroke-width="0.3" textLength="113" lengthAdjust="spacingAndGlyphs">eff=1/2</tspan></text>
</g>
</g>
</svg>
</body>
</html>
